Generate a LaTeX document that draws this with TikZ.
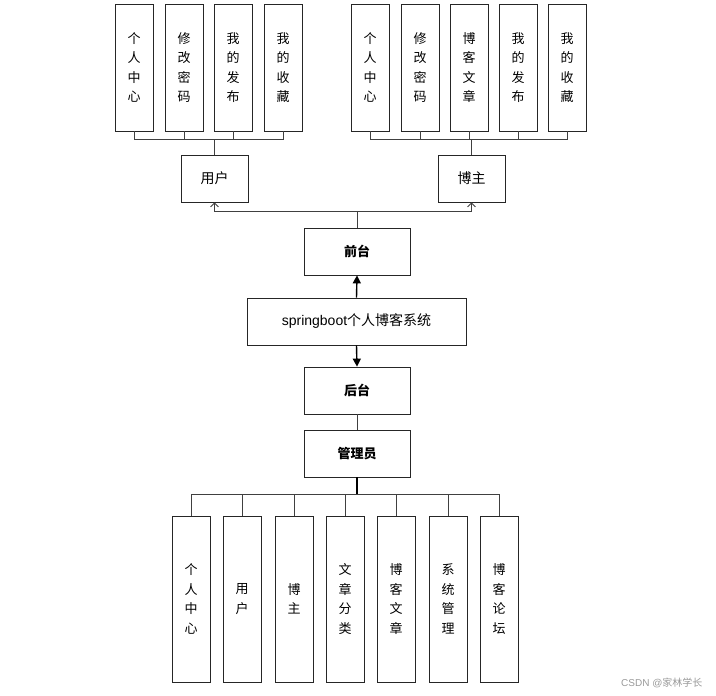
\documentclass[tikz,border=0pt]{standalone}
\usepackage{fontspec}
\setmainfont{Liberation Sans}
\newfontfamily\cjk{Noto Sans CJK SC}
\usetikzlibrary{arrows.meta}
\tikzset{
 box/.style={draw=black!85,line width=0.8pt,inner sep=0pt,font=\cjk\fontsize{14}{17}\selectfont},
 vbox/.style={box,minimum width=38pt,minimum height=127pt,align=center,font=\cjk\fontsize{13}{19.5}\selectfont},
 vboxb/.style={vbox,minimum height=166pt},
 hbox/.style={box,minimum width=106pt,minimum height=47pt,font=\cjk\bfseries\fontsize{13}{15}\selectfont},
 conn/.style={draw=black!75,line width=0.8pt},
 thick conn/.style={draw=black,line width=1.4pt},
}
\begin{document}
\begin{tikzpicture}[x=1pt,y=-1pt]
\useasboundingbox (0,0) rectangle (716,696);
% top left
\foreach \n/\x/\t in {a1/134/个\\人\\中\\心, a2/184/修\\改\\密\\码, a3/233/我\\的\\发\\布, a4/283/我\\的\\收\\藏}
  \node[vbox] (\n) at (\x,67.5) {\t};
\foreach \n/\x/\t in {b1/370/个\\人\\中\\心, b2/420/修\\改\\密\\码, b3/469/博\\客\\文\\章, b4/518/我\\的\\发\\布, b5/567/我\\的\\收\\藏}
  \node[vbox] (\n) at (\x,67.5) {\t};
\node[box,minimum width=67pt,minimum height=47pt] (yh) at (214.5,178.5) {用户};
\node[box,minimum width=67pt,minimum height=47pt] (bz) at (471.5,178.5) {博主};
\node[hbox] (qt) at (357,251.5) {前台};
\node[box,minimum width=219pt,minimum height=47pt,font=\fontsize{14}{17}\selectfont] (sys) at (356.5,321.5) {springboot{\cjk 个人博客系统}};
\node[hbox] (ht) at (357,390.5) {后台};
\node[hbox] (gly) at (357,453.5) {管理员};
\foreach \n/\x/\t in {c1/191/个\\人\\中\\心, c2/242/用\\户, c3/294/博\\主, c4/345/文\\章\\分\\类, c5/396/博\\客\\文\\章, c6/448/系\\统\\管\\理, c7/499/博\\客\\论\\坛}
  \node[vboxb] (\n) at (\x,599) {\t};
% connectors
\foreach \n in {a1,a2,a3,a4} \draw[conn] (\n.south) |- (yh.north |- 0,139) -- (yh.north);
\foreach \n in {b1,b2,b3,b4,b5} \draw[conn] (\n.south) |- (bz.north |- 0,139) -- (bz.north);
\draw[conn,-{Straight Barb[length=4pt,width=8pt]}] (qt.north) -- (qt.north |- 0,211) -| (yh.south);
\draw[conn,-{Straight Barb[length=4pt,width=8pt]}] (qt.north |- 0,211) -| (bz.south);
\draw[thick conn,-{Triangle[length=8pt,width=8pt]}] (sys.north) -- (qt.south);
\draw[thick conn,-{Triangle[length=8pt,width=8pt]}] (sys.south) -- (ht.north);
\draw[conn] (ht.south) -- (gly.north);
\draw[thick conn] (gly.south) -- (gly.south |- 0,494);
\foreach \n in {c1,c2,c3,c4,c5,c6,c7} \draw[conn] (gly.south |- 0,494) -| (\n.north);
\node[text=black!40,font=\fontsize{10}{12}\selectfont,anchor=east] (wm) at (706,683) {CSDN @{\cjk 家林学长}};
\end{tikzpicture}
\end{document}
